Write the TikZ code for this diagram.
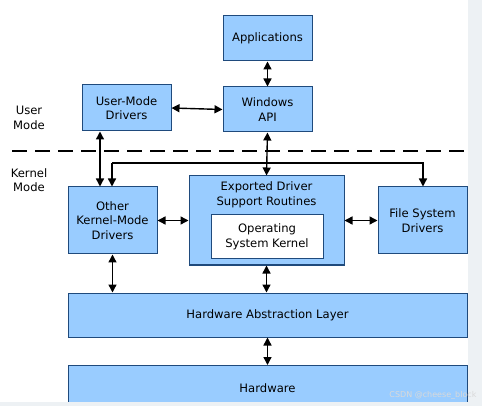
\documentclass[tikz,border=0pt]{standalone}
\usepackage{fontspec}
\setmainfont{DejaVu Sans}
\usetikzlibrary{arrows.meta}
\definecolor{boxfill}{HTML}{99CCFF}
\definecolor{boxline}{HTML}{1F4A7C}
\definecolor{strip}{HTML}{EDF1F4}
\begin{document}
\begin{tikzpicture}[x=1pt,y=-1pt,
  blk/.style={draw=boxline,line width=1pt,fill=boxfill,align=center,font=\fontsize{11.6}{14.5}\selectfont,inner sep=0pt},
  inner/.style={draw=boxline,line width=1pt,fill=white,align=center,font=\fontsize{11.6}{14.5}\selectfont,inner sep=0pt},
  lbl/.style={align=center,font=\fontsize{11.6}{14.5}\selectfont},
  conn/.style={line width=1.4pt,-{Triangle[length=8pt,width=8pt]}},
  conn2/.style={line width=1.4pt,{Triangle[length=8pt,width=8pt]}-{Triangle[length=8pt,width=8pt]}}]
\useasboundingbox (0,0) rectangle (482,406);
\fill[white] (0,0) rectangle (482,406);
\fill[strip] (468,0) rectangle (482,406);
% boxes
\node[blk,minimum width=89pt,minimum height=45pt] (app) at (267.5,38.5) {Applications};
\node[blk,minimum width=89pt,minimum height=45pt] (api) at (267.5,109.5) {Windows\\API};
\node[blk,minimum width=89pt,minimum height=46pt] (umd) at (126.5,108) {User-Mode\\Drivers};
\node[blk,minimum width=89pt,minimum height=67pt] (okmd) at (112.5,220.5) {Other\\Kernel-Mode\\Drivers};
\node[blk,minimum width=155pt,minimum height=89pt] (edsr) at (266.5,220.5) {};
\node[lbl] (edsrt) at (266.5,195) {Exported Driver\\Support Routines};
\node[inner,minimum width=112pt,minimum height=44pt] (osk) at (267,237) {Operating\\System Kernel};
\node[blk,minimum width=89pt,minimum height=67pt] (fsd) at (422.5,220.5) {File System\\Drivers};
\node[blk,minimum width=399pt,minimum height=44pt] (hal) at (267.5,315) {Hardware Abstraction Layer};
\node[blk,minimum width=399pt,minimum height=44pt,anchor=north] (hw) at (267.5,365) {};
\node[lbl] (hwt) at (267.5,388) {Hardware};
% mode labels
\node[lbl] (um) at (29,118) {User\\Mode};
\node[lbl] (km) at (29,180) {Kernel\\Mode};
\coordinate (dl) at (12,151);
\coordinate (dr) at (468,151);
\draw[line width=2pt,dash pattern=on 15pt off 8pt] (dl) -- (dr);
% connectors
\draw[conn2] (app.south) -- (api.north);
\draw[conn2] (umd.east) -- (api.west);
\draw[conn2] (api.south) -- (edsr.north);
\draw[conn2] (umd.south -| 100,0) -- (okmd.north -| 100,0);
\coordinate (bl) at (112,163);
\coordinate (br) at (423,163);
\draw[conn] (bl) -- (okmd.north -| bl);
\draw[conn] (bl) -- (br) -- (fsd.north -| br);
\draw[conn2] (okmd.east) -- (edsr.west);
\draw[conn2] (edsr.east) -- (fsd.west);
\draw[conn2] (okmd.south) -- (hal.north -| okmd.south);
\draw[conn2] (edsr.south) -- (hal.north -| edsr.south);
\draw[conn2] (hal.south) -- (hw.north);
\fill[strip] (0,402) rectangle (482,406);
\node[font=\fontsize{8}{8}\selectfont,text=white!70!gray,anchor=east] (wm) at (480,395) {CSDN @cheese\_block};
\end{tikzpicture}
\end{document}
